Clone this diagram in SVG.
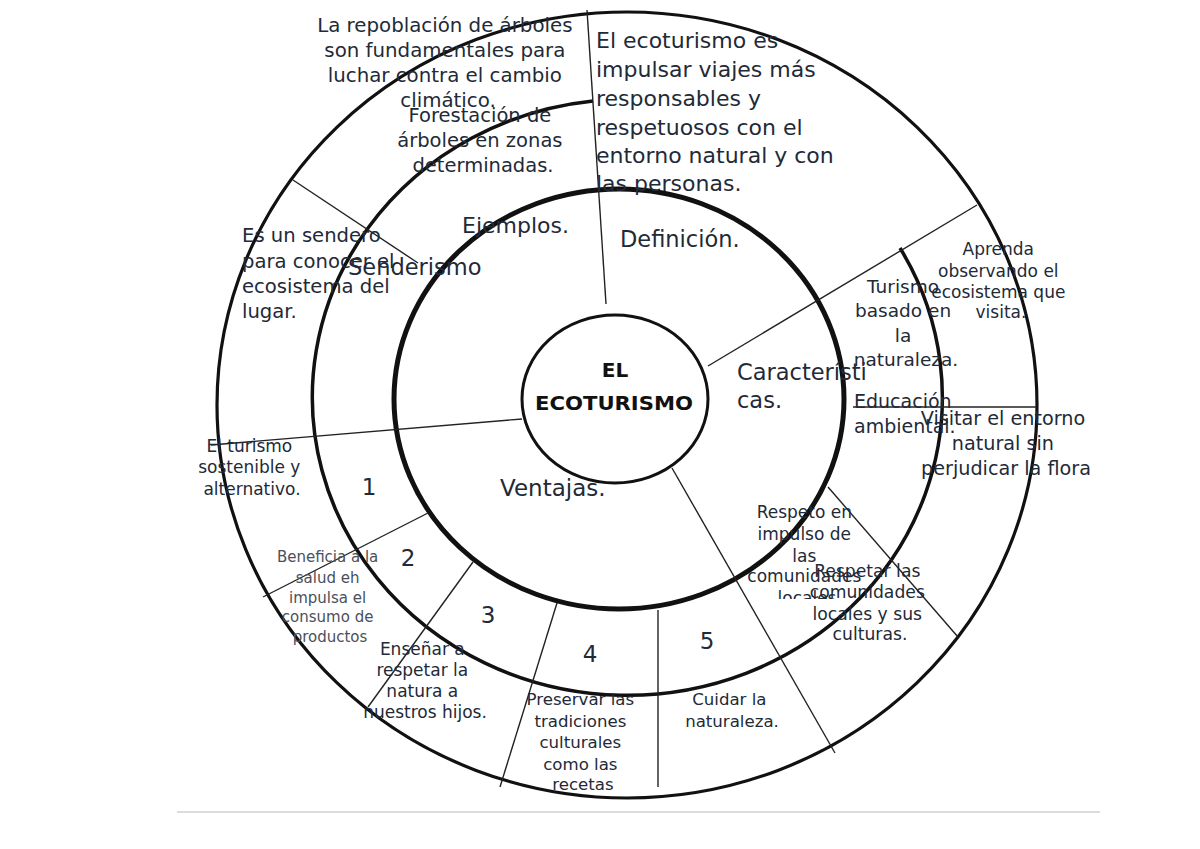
<svg xmlns="http://www.w3.org/2000/svg" width="1200" height="849" viewBox="0 0 1200 849">
<defs>
<style>
.ring{fill:none;stroke:#111;}
.ln{stroke:#222;stroke-width:1.4;fill:none;}
.t{font-family:"DejaVu Sans","Liberation Sans",sans-serif;fill:#222a38;}
.c{text-anchor:middle;}
.lt{fill:#4a505c;}
</style>
<clipPath id="clipRespeto"><rect x="700" y="480" width="200" height="119"/></clipPath>
</defs>
<rect width="1200" height="849" fill="#fff"/>

<g id="rings">
<ellipse id="outer-ring" class="ring" cx="627" cy="405" rx="410" ry="393" stroke-width="3.2"/>
<path id="middle-ring" class="ring" d="M 900 248 A 315 298 0 1 1 593 101" stroke-width="3.5"/>
<ellipse id="inner-ring" class="ring" cx="619" cy="399" rx="225" ry="210" stroke-width="5"/>
</g>

<g id="connectors">
<line class="ln" x1="587" y1="10" x2="606" y2="304"/>
<line class="ln" x1="708" y1="366" x2="977" y2="205"/>
<line class="ln" x1="522" y1="419" x2="211" y2="445"/>
<line class="ln" x1="672" y1="468" x2="835" y2="753"/>
<line class="ln" x1="828" y1="487" x2="958" y2="637"/>
<line class="ln" x1="293" y1="180" x2="418" y2="263"/>
<line class="ln" x1="428" y1="513" x2="263" y2="597"/>
<line class="ln" x1="473" y1="562" x2="368" y2="707"/>
<line class="ln" x1="557" y1="603" x2="500" y2="787"/>
<line class="ln" x1="658" y1="610" x2="658" y2="787"/>
<line class="ln" x1="853" y1="407" x2="1037" y2="407" stroke-width="2"/>
</g>

<g id="center">
<ellipse cx="615" cy="399" rx="93" ry="84" fill="none" stroke="#111" stroke-width="3"/>
<text x="615" y="377" class="c" font-family="DejaVu Sans, sans-serif" font-weight="bold" font-size="20" fill="#111">EL</text>
<text x="614" y="410" class="c" font-family="DejaVu Sans, sans-serif" font-weight="bold" font-size="20" fill="#111" textLength="158" lengthAdjust="spacingAndGlyphs">ECOTURISMO</text>
</g>

<g id="definicion">
<text class="t" x="620" y="247" font-size="22.5">Definición.</text>
<text class="t" font-size="22" x="596">
<tspan x="596" y="48">El ecoturismo es</tspan>
<tspan x="596" y="77">impulsar viajes más</tspan>
<tspan x="596" y="106">responsables y</tspan>
<tspan x="596" y="135">respetuosos con el</tspan>
<tspan x="596" y="163">entorno natural y con</tspan>
<tspan x="596" y="191">las personas.</tspan>
</text>
</g>

<g id="ejemplos">
<text class="t" x="462" y="233" font-size="22">Ejemplos.</text>
<text class="t c" font-size="19.5">
<tspan x="483" y="122">Forestación de</tspan>
<tspan x="483" y="147">árboles en zonas</tspan>
<tspan x="483" y="172">determinadas.</tspan>
</text>
<text class="t c" font-size="19.8">
<tspan x="448" y="32">La repoblación de árboles</tspan>
<tspan x="448" y="57">son fundamentales para</tspan>
<tspan x="448" y="82">luchar contra el cambio</tspan>
<tspan x="448" y="107">climático.</tspan>
</text>
<text class="t" x="348" y="275" font-size="22.5">Senderismo</text>
<text class="t" font-size="19.6">
<tspan x="242" y="242">Es un sendero</tspan>
<tspan x="242" y="268">para conocer el</tspan>
<tspan x="242" y="293">ecosistema del</tspan>
<tspan x="242" y="318">lugar.</tspan>
</text>
</g>

<g id="caracteristicas">
<text class="t" font-size="22.5">
<tspan x="737" y="380">Característi</tspan>
<tspan x="737" y="408">cas.</tspan>
</text>
<text class="t c" font-size="18.5">
<tspan x="906" y="293">Turismo</tspan>
<tspan x="906" y="317">basado en</tspan>
<tspan x="906" y="342">la</tspan>
<tspan x="906" y="366">naturaleza.</tspan>
</text>
<text class="t c" font-size="17">
<tspan x="1001" y="255">Aprenda</tspan>
<tspan x="1001" y="277">observando el</tspan>
<tspan x="1001" y="298">ecosistema que</tspan>
<tspan x="1001" y="318">visita.</tspan>
</text>
<text class="t" font-size="19">
<tspan x="854" y="408">Educación</tspan>
<tspan x="854" y="433">ambiental.</tspan>
</text>
<text class="t c" font-size="19.2">
<tspan x="1006" y="425">Visitar el entorno</tspan>
<tspan x="1006" y="450">natural sin</tspan>
<tspan x="1006" y="475">perjudicar la flora</tspan>
</text>
<text class="t c" font-size="17" clip-path="url(#clipRespeto)">
<tspan x="807" y="518">Respeto en</tspan>
<tspan x="807" y="540">impulso de</tspan>
<tspan x="807" y="562">las</tspan>
<tspan x="807" y="582">comunidades</tspan>
<tspan x="807" y="604">locales</tspan>
</text>
<text class="t c" font-size="17.2">
<tspan x="870" y="577">Respetar las</tspan>
<tspan x="870" y="598">comunidades</tspan>
<tspan x="870" y="620">locales y sus</tspan>
<tspan x="870" y="640">culturas.</tspan>
</text>
</g>

<g id="ventajas">
<text class="t" x="500" y="496" font-size="23">Ventajas.</text>
<text class="t c" x="369" y="495" font-size="23">1</text>
<text class="t c" x="408" y="566" font-size="23">2</text>
<text class="t c" x="488" y="623" font-size="23">3</text>
<text class="t c" x="590" y="662" font-size="23">4</text>
<text class="t c" x="707" y="649" font-size="23">5</text>
<text class="t c" font-size="17">
<tspan x="252" y="452">El turismo</tspan>
<tspan x="252" y="473">sostenible y</tspan>
<tspan x="252" y="495">alternativo.</tspan>
</text>
<text class="t c lt" font-size="15">
<tspan x="330" y="562">Beneficia a la</tspan>
<tspan x="330" y="583">salud eh</tspan>
<tspan x="330" y="603">impulsa el</tspan>
<tspan x="330" y="622">consumo de</tspan>
<tspan x="330" y="642">productos</tspan>
</text>
<text class="t c" font-size="17">
<tspan x="425" y="655">Enseñar a</tspan>
<tspan x="425" y="676">respetar la</tspan>
<tspan x="425" y="697">natura a</tspan>
<tspan x="425" y="718">nuestros hijos.</tspan>
</text>
<text class="t c" font-size="16.6">
<tspan x="583" y="705">Preservar las</tspan>
<tspan x="583" y="727">tradiciones</tspan>
<tspan x="583" y="748">culturales</tspan>
<tspan x="583" y="770">como las</tspan>
<tspan x="583" y="790">recetas</tspan>
</text>
<text class="t c" font-size="16.6">
<tspan x="732" y="705">Cuidar la</tspan>
<tspan x="732" y="727">naturaleza.</tspan>
</text>
</g>

<line id="footer-rule" x1="177" y1="812" x2="1100" y2="812" stroke="#d0d0d0" stroke-width="1.5"/>
</svg>
